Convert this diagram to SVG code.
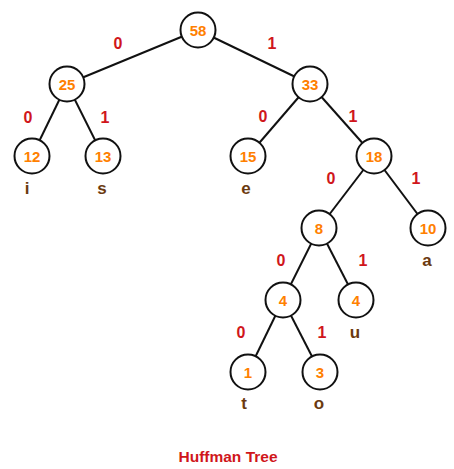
<svg xmlns="http://www.w3.org/2000/svg" width="454" height="469" viewBox="0 0 454 469">
<style>
.n circle{fill:#fff;stroke:#111;stroke-width:2}
.n text{font-family:"Liberation Sans",Arial,sans-serif;font-weight:bold;font-size:15px;fill:#ff8000;text-anchor:middle;dominant-baseline:central}
.e line{stroke:#111;stroke-width:2}
.b{font-family:"Liberation Sans",Arial,sans-serif;font-weight:bold;font-size:16px;fill:#d0161b;text-anchor:middle;dominant-baseline:central}
.l{font-family:"Liberation Sans",Arial,sans-serif;font-weight:bold;font-size:17px;fill:#6b3a10;text-anchor:middle;dominant-baseline:central}
</style>
<rect width="454" height="469" fill="#fff"/>
<g id="connectors" class="e">
<line x1="198" y1="30" x2="67" y2="84"/>
<line x1="198" y1="30" x2="310" y2="84"/>
<line x1="67" y1="84" x2="32" y2="156"/>
<line x1="67" y1="84" x2="103" y2="156"/>
<line x1="310" y1="84" x2="248" y2="156"/>
<line x1="310" y1="84" x2="374" y2="156"/>
<line x1="374" y1="156" x2="319" y2="228"/>
<line x1="374" y1="156" x2="428" y2="228"/>
<line x1="319" y1="228" x2="283" y2="300"/>
<line x1="319" y1="228" x2="356" y2="300"/>
<line x1="283" y1="300" x2="248" y2="372"/>
<line x1="283" y1="300" x2="320" y2="372"/>
</g>
<g id="edge-labels">
<text class="b" x="118" y="43">0</text>
<text class="b" x="272" y="43">1</text>
<text class="b" x="28" y="117">0</text>
<text class="b" x="105" y="117">1</text>
<text class="b" x="263" y="116">0</text>
<text class="b" x="353" y="116">1</text>
<text class="b" x="331" y="178">0</text>
<text class="b" x="416" y="178">1</text>
<text class="b" x="281" y="260">0</text>
<text class="b" x="363" y="260">1</text>
<text class="b" x="241" y="332">0</text>
<text class="b" x="322" y="332">1</text>
</g>
<g id="n58" class="n"><circle cx="198" cy="30" r="17.5"/><text x="198" y="30">58</text></g>
<g id="n25" class="n"><circle cx="67" cy="84" r="17.5"/><text x="67" y="84">25</text></g>
<g id="n33" class="n"><circle cx="310" cy="84" r="17.5"/><text x="310" y="84">33</text></g>
<g id="n12" class="n"><circle cx="32" cy="156" r="17.5"/><text x="32" y="156">12</text></g>
<g id="n13" class="n"><circle cx="103" cy="156" r="17.5"/><text x="103" y="156">13</text></g>
<g id="n15" class="n"><circle cx="248" cy="156" r="17.5"/><text x="248" y="156">15</text></g>
<g id="n18" class="n"><circle cx="374" cy="156" r="17.5"/><text x="374" y="156">18</text></g>
<g id="n8" class="n"><circle cx="319" cy="228" r="17.5"/><text x="319" y="228">8</text></g>
<g id="n10" class="n"><circle cx="428" cy="228" r="17.5"/><text x="428" y="228">10</text></g>
<g id="n4a" class="n"><circle cx="283" cy="300" r="17.5"/><text x="283" y="300">4</text></g>
<g id="n4b" class="n"><circle cx="356" cy="300" r="17.5"/><text x="356" y="300">4</text></g>
<g id="n1" class="n"><circle cx="248" cy="372" r="17.5"/><text x="248" y="372">1</text></g>
<g id="n3" class="n"><circle cx="320" cy="372" r="17.5"/><text x="320" y="372">3</text></g>
<g id="leaf-labels">
<text class="l" x="27" y="188">i</text>
<text class="l" x="102" y="188">s</text>
<text class="l" x="246" y="188">e</text>
<text class="l" x="427" y="260">a</text>
<text class="l" x="355" y="332">u</text>
<text class="l" x="244" y="403">t</text>
<text class="l" x="319" y="403">o</text>
</g>
<text id="title" x="228" y="456" style="font-family:'Liberation Sans',Arial,sans-serif;font-weight:bold;font-size:15.5px;fill:#d0161b;text-anchor:middle;dominant-baseline:central">Huffman Tree</text>
</svg>
